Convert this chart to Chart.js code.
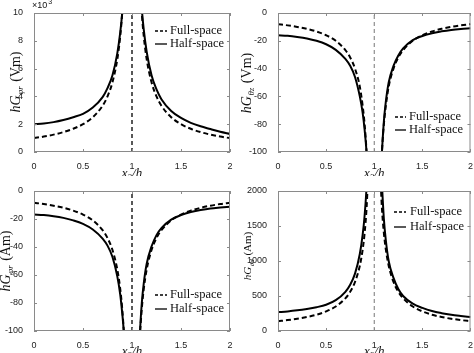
<!DOCTYPE html>
<html>
<head>
<meta charset="utf-8">
<script src="https://cdn.jsdelivr.net/npm/chart.js@4/dist/chart.umd.min.js"></script>
<style>
  html, body { margin: 0; padding: 0; background: #fff; }
  #wrap { position: relative; width: 474px; height: 353px; overflow: hidden; }
  canvas { position: absolute; }
</style>
</head>
<body>
<div id="wrap">
  <canvas id="c1" width="237" height="176" style="left:0;top:0"></canvas>
  <canvas id="c2" width="237" height="176" style="left:237px;top:0"></canvas>
  <canvas id="c3" width="237" height="177" style="left:0;top:176px"></canvas>
  <canvas id="c4" width="237" height="177" style="left:237px;top:176px"></canvas>
</div>
<script>
// x3/h sample points, null gap at the singularity x = 1
const xs = [0, 0.1, 0.2, 0.3, 0.4, 0.5, 0.6, 0.7, 0.75, 0.8, 0.85, 0.88, 0.9, 0.92, 0.94, 1,
  1.06, 1.08, 1.1, 1.12, 1.15, 1.2, 1.25, 1.3, 1.4, 1.5, 1.6, 1.7, 1.8, 1.9, 2];

// top-left, hG_φr (Vm), in units of 10^3
const fullTL = [1.0, 1.11, 1.25, 1.43, 1.67, 2.0, 2.5, 3.33, 4.0, 5.0, 6.67, 8.33, 10.0, 12.5, 16.7, null,
  16.7, 12.5, 10.0, 8.33, 6.67, 5.0, 4.0, 3.33, 2.5, 2.0, 1.67, 1.43, 1.25, 1.11, 1.0];
const halfTL = [2.0, 2.05, 2.15, 2.3, 2.5, 2.75, 3.2, 3.95, 4.6, 5.5, 7.1, 8.6, 10.0, 12.2, 15.5, null,
  15.8, 12.6, 10.3, 8.8, 7.2, 5.5, 4.5, 3.8, 2.95, 2.45, 2.1, 1.85, 1.65, 1.45, 1.3];

// top-right, hG_θz (Vm)
const fullTR = [-8, -8.9, -10, -11.4, -13.3, -16, -20, -26.7, -32, -40, -53, -67, -80, -100, -133, null,
  -133, -100, -80, -67, -53, -40, -32, -26.7, -20, -16, -13.3, -11.4, -10, -8.9, -8];
const halfTR = [-16, -16.4, -17.2, -18.3, -20, -22.5, -26.5, -33, -38, -46, -60, -72, -84, -100, -125, null,
  -128, -100, -78, -64, -50, -38, -30.5, -25.5, -19.5, -16.5, -14.5, -13.2, -12.2, -11.5, -11];

// bottom-left, hG_φr (Am)
const fullBL = [-8.4, -9.3, -10.5, -12, -14, -16.8, -21, -28, -33.6, -42, -56, -70, -84, -105, -140, null,
  -140, -105, -84, -70, -56, -42, -33.6, -28, -21, -16.8, -14, -12, -10.5, -9.3, -8.4];
const halfBL = [-16.8, -17.2, -18, -19.2, -21, -23.5, -27.5, -34, -39, -47, -61, -74, -87, -104, -130, null,
  -130, -102, -80, -66, -52, -39.5, -31.5, -26.5, -20.5, -17.2, -15, -13.6, -12.5, -11.8, -11.2];

// bottom-right, hG_θd (Am)
const fullBR = [140, 156, 175, 200, 233, 280, 350, 467, 560, 700, 933, 1167, 1400, 1750, 2333, null,
  2333, 1750, 1400, 1167, 933, 700, 560, 467, 350, 280, 233, 200, 175, 156, 140];
const halfBR = [270, 280, 295, 315, 340, 375, 440, 560, 660, 820, 1100, 1380, 1650, 2050, 2700, null,
  2750, 2100, 1600, 1300, 1000, 760, 600, 500, 390, 330, 285, 255, 232, 215, 200];

const legendLabels = ["Full-space", "Half-space"];
const xTickStep = 0.5;

const SERIF = "'Liberation Serif', 'DejaVu Serif', serif";
const SANS = "'Liberation Sans', Arial, sans-serif";

const pairs = (ys) => xs.map((x, i) => ({ x, y: ys[i] }));
const plainTick = (v) => String(Math.round(v * 100) / 100);

const drawRich = (ctx, parts, cx, cy, rotate) => {
  ctx.save();
  ctx.translate(cx, cy);
  if (rotate) ctx.rotate(-Math.PI / 2);
  ctx.textBaseline = "alphabetic";
  ctx.textAlign = "left";
  let total = 0;
  parts.forEach((p) => {
    ctx.font = p.font;
    p.w = ctx.measureText(p.t).width + (p.gap || 0);
    total += p.w;
  });
  let x = -total / 2;
  parts.forEach((p) => {
    ctx.font = p.font;
    ctx.fillStyle = "#111";
    ctx.fillText(p.t, x, 5 + (p.dy || 0));
    x += p.w;
  });
  ctx.restore();
};

const makePanel = (id, cfg) => {
  const canvas = document.getElementById(id);

  const decoPlugin = {
    id: "deco",
    afterDraw(chart) {
      const { ctx, chartArea, scales } = chart;
      ctx.save();
      // box and inward ticks
      ctx.strokeStyle = "#8a8a8a";
      ctx.lineWidth = 1;
      ctx.strokeRect(chartArea.left + 0.5, chartArea.top + 0.5,
        chartArea.right - chartArea.left - 1, chartArea.bottom - chartArea.top - 1);
      ctx.beginPath();
      scales.x.ticks.forEach((t) => {
        const px = Math.round(scales.x.getPixelForValue(t.value)) + 0.5;
        ctx.moveTo(px, chartArea.bottom);
        ctx.lineTo(px, chartArea.bottom - 3);
        ctx.moveTo(px, chartArea.top);
        ctx.lineTo(px, chartArea.top + 3);
      });
      scales.y.ticks.forEach((t) => {
        const py = Math.round(scales.y.getPixelForValue(t.value)) + 0.5;
        ctx.moveTo(chartArea.left, py);
        ctx.lineTo(chartArea.left + 3, py);
        ctx.moveTo(chartArea.right, py);
        ctx.lineTo(chartArea.right - 3, py);
      });
      ctx.stroke();

      // legend
      const lg = cfg.legend;
      ctx.strokeStyle = "#000";
      ctx.lineWidth = 1.3;
      ctx.setLineDash([3, 2]);
      ctx.beginPath();
      ctx.moveTo(lg.x0, lg.y1);
      ctx.lineTo(lg.x1, lg.y1);
      ctx.stroke();
      ctx.setLineDash([]);
      ctx.beginPath();
      ctx.moveTo(lg.x0, lg.y2);
      ctx.lineTo(lg.x1, lg.y2);
      ctx.stroke();
      ctx.fillStyle = "#111";
      ctx.font = "12.5px " + SERIF;
      ctx.textBaseline = "middle";
      ctx.textAlign = "left";
      ctx.fillText(legendLabels[0], lg.tx, lg.y1);
      ctx.fillText(legendLabels[1], lg.tx, lg.y2);

      // exponent note
      if (cfg.exponent) {
        ctx.font = "9px " + SANS;
        ctx.textBaseline = "middle";
        ctx.fillText("×10", cfg.exponent.x, cfg.exponent.y);
        const w = ctx.measureText("×10").width;
        ctx.font = "7px " + SANS;
        ctx.fillText(cfg.exponent.power, cfg.exponent.x + w + 1, cfg.exponent.y - 4);
      }
      ctx.restore();

      // axis titles
      const fs = cfg.yFont;
      drawRich(ctx, [
        { t: "hG", font: `italic ${fs}px ${SERIF}`, gap: 0.5 },
        { t: cfg.sub, font: `italic ${Math.round(fs * 0.62)}px ${SERIF}`, dy: 3, gap: 1 },
        { t: " " + cfg.unit, font: `${fs}px ${SERIF}` },
      ], cfg.yLabel.x, cfg.yLabel.y, true);
      drawRich(ctx, [
        { t: "x", font: `italic 13px ${SERIF}` },
        { t: "3", font: `italic 9px ${SERIF}`, dy: 3 },
        { t: "/h", font: `italic 13px ${SERIF}` },
      ], (chartArea.left + chartArea.right) / 2, chartArea.bottom + cfg.xLabelDy, false);
    },
  };

  return new Chart(canvas.getContext("2d"), {
    type: "line",
    data: {
      datasets: [
        {
          label: "x = 1",
          data: [{ x: 1, y: cfg.yMin }, { x: 1, y: cfg.yMax }],
          borderColor: cfg.vColor,
          borderWidth: cfg.vWidth,
          borderDash: [4, 3],
          pointRadius: 0,
        },
        {
          label: legendLabels[0],
          data: pairs(cfg.full),
          borderColor: "#000",
          borderWidth: 2,
          borderDash: [5, 3],
          pointRadius: 0,
          cubicInterpolationMode: "monotone",
          spanGaps: false,
        },
        {
          label: legendLabels[1],
          data: pairs(cfg.half),
          borderColor: "#000",
          borderWidth: 2,
          pointRadius: 0,
          cubicInterpolationMode: "monotone",
          spanGaps: false,
        },
      ],
    },
    options: {
      responsive: false,
      animation: false,
      devicePixelRatio: 1,
      layout: { padding: { top: cfg.pad.top, right: cfg.pad.right, left: 0, bottom: 0 } },
      plugins: { legend: { display: false }, tooltip: { enabled: false } },
      scales: {
        x: {
          type: "linear",
          min: 0,
          max: 2,
          grid: { display: false },
          border: { display: false },
          ticks: { stepSize: xTickStep, padding: 1, color: "#222", font: { family: SANS, size: 9 }, callback: plainTick },
          afterFit: (scale) => { scale.height = cfg.pad.bottom; },
        },
        y: {
          min: cfg.yMin,
          max: cfg.yMax,
          grid: { display: false },
          border: { display: false },
          ticks: { stepSize: cfg.yStep, padding: 3, color: "#222", font: { family: SANS, size: 9 }, callback: plainTick },
          afterFit: (scale) => { scale.width = cfg.pad.left; },
        },
      },
    },
    plugins: [decoPlugin],
  });
};

makePanel("c1", {
  full: fullTL, half: halfTL, yMin: 0, yMax: 10, yStep: 2,
  pad: { top: 13, right: 7, bottom: 24, left: 34 },
  vColor: "#222", vWidth: 1.5,
  legend: { x0: 155, x1: 167, tx: 170, y1: 31, y2: 44 },
  exponent: { x: 32, y: 6, power: "3" },
  sub: "φr", unit: "(Vm)", yFont: 14, yLabel: { x: 15, y: 82 }, xLabelDy: 20,
});
makePanel("c2", {
  full: fullTR, half: halfTR, yMin: -100, yMax: 0, yStep: 20,
  pad: { top: 13, right: 1, bottom: 24, left: 41 },
  vColor: "#777", vWidth: 1,
  legend: { x0: 158, x1: 169, tx: 172, y1: 117, y2: 130 },
  sub: "θz", unit: "(Vm)", yFont: 14, yLabel: { x: 9, y: 83 }, xLabelDy: 20,
});
makePanel("c3", {
  full: fullBL, half: halfBL, yMin: -100, yMax: 0, yStep: 20,
  pad: { top: 15, right: 7, bottom: 22, left: 34 },
  vColor: "#222", vWidth: 1.5,
  legend: { x0: 155, x1: 167, tx: 170, y1: 119, y2: 133 },
  sub: "φr", unit: "(Am)", yFont: 14, yLabel: { x: 5, y: 85 }, xLabelDy: 19,
});
makePanel("c4", {
  full: fullBR, half: halfBR, yMin: 0, yMax: 2000, yStep: 500,
  pad: { top: 15, right: 1, bottom: 22, left: 41 },
  vColor: "#777", vWidth: 1,
  legend: { x0: 157, x1: 169, tx: 173, y1: 36, y2: 51 },
  sub: "θd", unit: "(Am)", yFont: 11, yLabel: { x: 9, y: 80 }, xLabelDy: 19,
});
</script>
</body>
</html>
